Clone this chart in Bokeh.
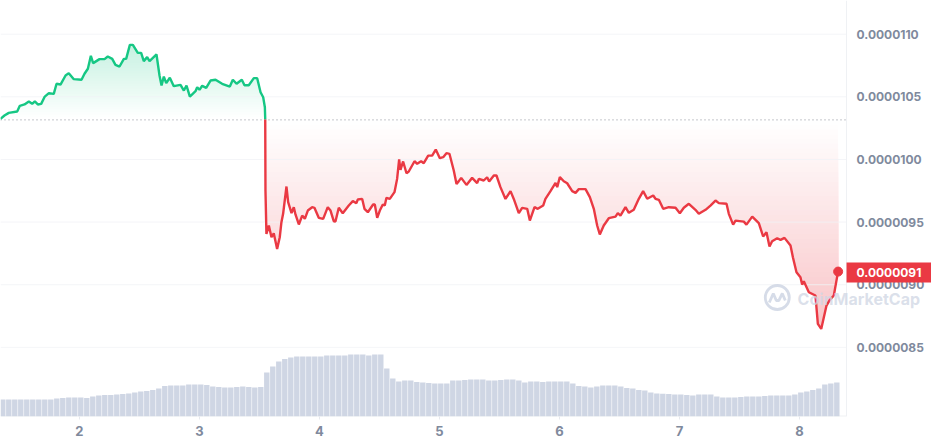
import numpy as np
from bokeh.plotting import figure
from bokeh.models import Range1d, FixedTicker
from bokeh.core.properties import value
from bokeh.embed import file_html
from bokeh.resources import INLINE

# Days of month and price, in units of 1e-7
up_days = [1.342,1.375,1.411,1.481,1.503,1.542,1.578,1.606,1.628,1.653,1.681,1.711,1.745,1.786,1.809,1.842,1.884,1.911,1.953,2.017,2.042,2.070,2.095,2.114,2.167,2.209,2.236,2.273,2.300,2.334,2.370,2.389,2.420,2.445,2.486,2.514,2.536,2.564,2.584,2.642,2.667,2.684,2.703,2.723,2.753,2.786,2.842,2.870,2.892,2.920,2.967,2.981,3.000,3.023,3.056,3.092,3.134,3.189,3.253,3.278,3.309,3.353,3.375,3.411,3.453,3.481,3.509,3.531,3.545,3.548]
up_price = [103.24,103.51,103.72,103.83,104.28,104.39,104.63,104.44,104.63,104.39,104.44,105.02,105.29,105.24,106.04,105.98,106.70,106.89,106.41,106.36,106.84,107.24,108.27,107.69,108.01,108.01,108.22,108.03,107.55,107.42,108.03,108.03,109.15,109.15,108.51,108.51,107.85,108.17,107.85,108.38,106.70,105.90,106.62,106.09,106.52,105.85,105.96,105.50,105.90,105.02,105.45,105.77,105.56,105.88,105.72,106.30,106.36,106.04,105.82,106.36,106.04,106.36,105.93,105.93,106.49,106.49,105.37,104.97,104.17,103.19]

down_days = [3.548,3.550,3.558,3.578,3.600,3.619,3.647,3.669,3.683,3.697,3.725,3.739,3.767,3.786,3.800,3.828,3.856,3.878,3.903,3.939,3.958,3.994,4.031,4.069,4.092,4.119,4.133,4.161,4.194,4.244,4.278,4.308,4.319,4.356,4.375,4.403,4.447,4.461,4.481,4.503,4.528,4.544,4.558,4.586,4.625,4.647,4.664,4.675,4.697,4.725,4.744,4.792,4.814,4.847,4.869,4.906,4.939,4.969,5.003,5.031,5.058,5.083,5.119,5.142,5.161,5.181,5.225,5.272,5.314,5.328,5.369,5.397,5.414,5.453,5.475,5.508,5.550,5.592,5.619,5.661,5.689,5.731,5.753,5.792,5.819,5.864,5.883,5.925,5.967,5.981,6.003,6.036,6.064,6.106,6.134,6.161,6.217,6.253,6.286,6.314,6.336,6.369,6.411,6.467,6.486,6.508,6.550,6.578,6.619,6.661,6.697,6.731,6.781,6.800,6.828,6.864,6.911,6.967,7.003,7.036,7.078,7.133,7.161,7.217,7.258,7.300,7.328,7.392,7.411,7.447,7.467,7.536,7.558,7.606,7.661,7.697,7.725,7.750,7.772,7.814,7.842,7.875,7.925,7.945,7.975,8.008,8.022,8.036,8.078,8.133,8.153,8.181,8.225,8.253,8.286,8.308,8.322]
down_price = [103.19,97.52,94.06,94.73,93.79,94.11,92.86,93.79,94.99,95.66,97.84,96.59,95.71,96.19,95.61,94.81,95.52,95.26,95.92,96.19,96.14,95.34,95.26,96.19,95.92,95.07,95.05,96.14,95.71,96.32,96.67,96.51,96.80,96.85,96.06,95.79,96.40,96.40,95.34,95.92,96.40,96.32,96.94,96.85,97.39,98.45,100.00,99.17,99.84,98.90,99.04,99.86,99.65,99.86,99.70,100.31,100.31,100.79,100.10,100.18,100.50,100.45,99.12,98.05,98.27,98.53,97.97,98.53,98.11,98.45,98.32,98.58,98.24,98.72,98.72,97.79,96.85,97.47,96.85,95.71,96.14,96.06,95.12,96.19,96.06,96.32,96.85,97.47,98.13,97.79,98.59,98.26,98.10,97.47,97.33,97.63,97.63,96.99,96.06,94.73,94.01,94.73,95.31,95.44,95.71,95.52,96.19,95.74,95.98,96.86,97.47,96.86,97.12,96.86,96.78,96.06,96.19,96.14,95.71,96.14,96.46,95.98,95.66,95.98,96.32,96.72,96.51,96.46,95.66,94.80,95.12,95.04,94.80,95.44,94.91,93.85,94.19,93.05,93.47,93.71,93.58,93.74,93.13,92.20,91.00,90.60,90.01,90.28,89.40,89.14,86.87,86.47,88.34,88.79,89.14,90.33,91.08]

open_price = 103.16
last_price = 91.05
last_day = 8.322

volume = [17,17,17,17,17,17,17,17,17,18,18.5,19,19,19,18.5,20,21,21.5,21.5,22,22.5,23,24,25,25.5,26.5,28,30.5,31,31,31,32,32,32,31.5,30,29.5,29,29,29.5,30,29.5,29,29.5,44,50,55,57.5,59,60,60,60,60,60,61,61,61,61,62,62,62,61,62,62,48,38,35,36,36,34.5,34,33.5,33,33,33,36,36,36.5,37,37,37,36,36,36.5,37,37,36,34,35,35,34.5,35,35,35,35,33,30.5,30,29,30,31,31,31,30,28.5,28,26.5,26,24,23,22.7,22.5,22,22,21.5,21,22,22,22,20,19,19,19,19.5,20,20,20,20.5,21,21,21,21,22,24,25,26.5,28,32,33,34]
volume_first_day = 1.361
volume_step = 0.05

y_ticks = [85, 90, 95, 100, 105, 110]
y_labels = ["0.0000085", "0.0000090", "0.0000095", "0.0000100", "0.0000105", "0.0000110"]
x_ticks = [2, 3, 4, 5, 6, 7, 8]
last_label = "0.0000091"
watermark = "CoinMarketCap"

GREEN = "#16c784"
RED = "#ea3943"
GREY = "#808a9d"
GRID = "#f1f3f6"
BARS = "#cfd6e4"

X0, X1 = 1.342, 9.1     # visible days, the price pane stops at PANE_END
PANE_END = 8.392
LABEL_X = 8.475
Y0, Y1 = 79.48, 112.69

p = figure(frame_width=931, frame_height=416, min_border_left=0, min_border_top=0,
           min_border_right=0, min_border_bottom=29,
           x_range=Range1d(X0, X1), y_range=Range1d(Y0, Y1),
           toolbar_location=None, output_backend="svg",
           background_fill_color="white", border_fill_color="white", outline_line_color=None)
p.extra_y_ranges = {"volume": Range1d(0, 416)}
p.grid.visible = False
p.yaxis.visible = False

xa = p.xaxis[0]
xa.ticker = FixedTicker(ticks=x_ticks)
xa.major_tick_line_color = "#e6e9ee"
xa.major_tick_in = 0
xa.major_tick_out = 3
xa.minor_tick_line_color = None
xa.axis_line_color = None
xa.major_label_standoff = 6
xa.major_label_text_font = "Inter"
xa.major_label_text_font_size = "13px"
xa.major_label_text_font_style = "bold"
xa.major_label_text_color = GREY


def tint(colour, alpha):
    rgb = [int(colour[i:i + 2], 16) for i in (1, 3, 5)]
    return "#%02x%02x%02x" % tuple(round(255 + (c - 255) * alpha) for c in rgb)


# Vertical gradients painted as opaque nested layers, palest first
gx = np.linspace(up_days[0], up_days[-1], 450)
gy = np.maximum(np.interp(gx, up_days, up_price), open_price)
levels = np.linspace(open_price, max(up_price), 30)
for k, t in enumerate(levels):
    p.varea(x=gx, y1=np.minimum(t, gy), y2=gy, fill_color=tint(GREEN, 0.25 * k / 29))

rx = np.linspace(down_days[0], down_days[-1], 900)
ry = np.interp(rx, down_days, down_price)
levels = np.linspace(open_price, min(down_price), 45)
for k, t in enumerate(levels):
    p.varea(x=rx, y1=np.maximum(t, ry), y2=ry, fill_color=tint(RED, 0.30 * k / 44))

# Grid and pane borders
p.segment(x0=X0, x1=PANE_END, y0=y_ticks, y1=y_ticks, line_color=GRID, line_width=1, line_alpha=0.8)
p.line([PANE_END, PANE_END], [Y0, Y1], line_color="#eff1f4", line_width=1)
p.line([X0, PANE_END], [Y0, Y0], line_color="#eff1f4", line_width=2)

vol_x = volume_first_day + volume_step * np.arange(len(volume))
p.vbar(x=vol_x, top=volume, bottom=0, width=volume_step * 0.9, fill_color=BARS,
       line_color=None, y_range_name="volume")

p.line([X0, PANE_END], [open_price, open_price], line_color="#8a8f99", line_width=1, line_dash="1 3")

p.line(up_days, up_price, line_color=GREEN, line_width=2.4)
p.line(down_days, down_price, line_color=RED, line_width=2.4)
p.scatter([last_day], [last_price], size=9, fill_color=RED, line_color=RED)

# Value labels
p.text(x=LABEL_X, y=y_ticks, text=y_labels, text_font=value("Inter"), text_font_size="12px",
       text_font_style="bold", text_color=GREY, text_baseline="middle", text_align="left")

# Tag with the last price
p.quad(left=PANE_END, right=X1, top=91.77, bottom=90.17, fill_color=RED, line_color=None)
p.text(x=[LABEL_X], y=[90.97], text=[last_label], text_font=value("Inter"), text_font_size="12px",
       text_font_style="bold", text_color="white", text_baseline="middle", text_align="left")

# Watermark
mx, my = 7.815, 88.98
p.scatter([mx], [my], size=24, marker="circle", fill_color=None, line_color="#cfd6e4", line_width=2.8, line_alpha=0.85)
p.line([mx - 8/120, mx - 4/120, mx - 1/120, mx + 1.5/120, mx + 5/120, mx + 8/120],
       [my - 5/12.5, my + 4/12.5, my - 3/12.5, my - 3/12.5, my + 4/12.5, my - 3/12.5],
       line_color="#cfd6e4", line_width=2.8, line_alpha=0.85)
p.text(x=[7.984], y=[88.9], text=[watermark], text_font=value("Inter"), text_font_size="16px",
       text_font_style="bold", text_color="#cfd6e4", text_alpha=0.75, text_baseline="middle", text_align="left")

open("out.html", "w").write(file_html(p, INLINE))
